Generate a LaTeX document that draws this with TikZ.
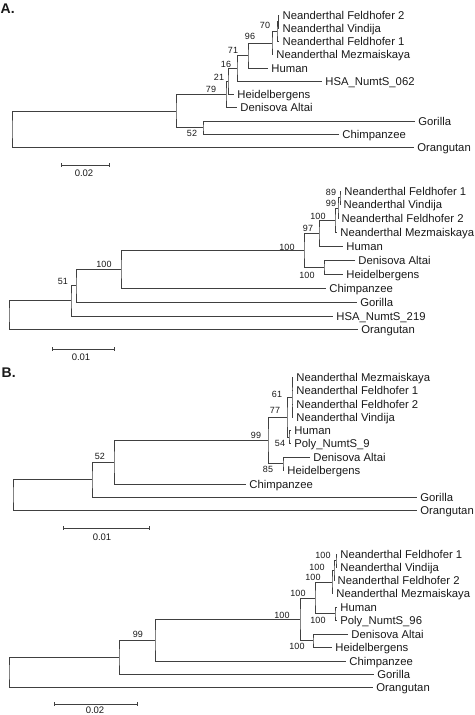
\documentclass[tikz,border=0pt]{standalone}
\usepackage{fontspec}
\setmainfont{Liberation Sans}
\newcommand\myclade[3]{\draw[br] (#2) -| (#1) |- (#3);}
\newcommand\myscale[2]{\draw[br] (#1) -- (#2); \draw[br] ([yshift=2pt]#1) -- ([yshift=-2pt]#1); \draw[br] ([yshift=2pt]#2) -- ([yshift=-2pt]#2);}
\begin{document}
\begin{tikzpicture}[x=1pt,y=-1pt,
  br/.style={draw=black!75, line width=0.65pt},
  leaf/.style={anchor=west, inner xsep=3pt, inner ysep=0pt, text height=8pt, text depth=0pt, font=\fontsize{11.3}{13}\selectfont, text=black!90},
  boot/.style={inner sep=0pt, text height=6.4pt, text depth=0pt, font=\fontsize{9}{10}\selectfont, text=black!90},
  barlabel/.style={inner sep=0pt, text height=6.8pt, text depth=0pt, font=\fontsize{9.5}{10}\selectfont, text=black!90},
  panel/.style={anchor=base west, inner sep=0pt, font=\fontsize{14}{15}\selectfont\bfseries, text=black!90}]
\useasboundingbox (0,0) rectangle (474,715);

% ---------------- Panel labels
\node[panel] (pA) at (0.5,13.3) {A.};
\node[panel] (pB) at (1.5,377) {B.};

% ================= Tree A1
\node[leaf] (a1f2) at (279.4,15) {Neanderthal Feldhofer 2};
\node[leaf] (a1v) at (279.4,28.2) {Neanderthal Vindija};
\node[leaf] (a1f1) at (279.4,41.5) {Neanderthal Feldhofer 1};
\node[leaf] (a1m) at (273.2,54.8) {Neanderthal Mezmaiskaya};
\node[leaf] (a1hu) at (268.2,68) {Human};
\node[leaf] (a1hsa) at (322.2,81.3) {HSA\_NumtS\_062};
\node[leaf] (a1hd) at (234.2,94.5) {Heidelbergens};
\node[leaf] (a1dn) at (237.2,107.8) {Denisova Altai};
\node[leaf] (a1go) at (415.2,121) {Gorilla};
\node[leaf] (a1ch) at (339.2,134.3) {Chimpanzee};
\node[leaf] (a1or) at (414.2,147.5) {Orangutan};

\coordinate (a1na) at (278.3,21.6);
\coordinate (a1n70) at (277,31.5);
\coordinate (a1n96) at (272,43.2);
\coordinate (a1n71) at (248,55.6);
\coordinate (a1n16) at (237,68.4);
\coordinate (a1n21) at (228,81.5);
\coordinate (a1n79) at (226,94.6);
\coordinate (a1ngc) at (203,127.6);
\coordinate (a1top) at (176,111.1);
\coordinate (a1root) at (12,129.3);

\myclade{a1na}{a1f2.west}{a1v.west}
\myclade{a1n70}{a1na}{a1f1.west}
\myclade{a1n96}{a1n70}{a1m.west}
\myclade{a1n71}{a1n96}{a1hu.west}
\myclade{a1n16}{a1n71}{a1hsa.west}
\myclade{a1n21}{a1n16}{a1hd.west}
\myclade{a1n79}{a1n21}{a1dn.west}
\myclade{a1ngc}{a1go.west}{a1ch.west}
\myclade{a1top}{a1n79}{a1ngc}
\myclade{a1root}{a1top}{a1or.west}

\node[boot] (a1b70) at (265,25) {70};
\node[boot] (a1b96) at (250,36) {96};
\node[boot] (a1b71) at (233,50) {71};
\node[boot] (a1b16) at (226,64) {16};
\node[boot] (a1b21) at (219,77) {21};
\node[boot] (a1b79) at (211,89) {79};
\node[boot] (a1b52) at (192,133) {52};

\coordinate (a1s0) at (61,165); \coordinate (a1s1) at (109,165);
\myscale{a1s0}{a1s1}
\node[barlabel] (a1sl) at (84,173) {0.02};

% ================= Tree A2
\node[leaf] (a2f1) at (341.2,191) {Neanderthal Feldhofer 1};
\node[leaf] (a2v) at (340.5,204.5) {Neanderthal Vindija};
\node[leaf] (a2f2) at (338.5,218) {Neanderthal Feldhofer 2};
\node[leaf] (a2m) at (337.2,232) {Neanderthal Mezmaiskaya};
\node[leaf] (a2hu) at (343.2,246) {Human};
\node[leaf] (a2dn) at (355.2,260) {Denisova Altai};
\node[leaf] (a2hd) at (343.2,274) {Heidelbergens};
\node[leaf] (a2ch) at (326.2,288) {Chimpanzee};
\node[leaf] (a2go) at (357.2,302) {Gorilla};
\node[leaf] (a2hsa) at (333.2,316) {HSA\_NumtS\_219};
\node[leaf] (a2or) at (358.2,329.5) {Orangutan};

\coordinate (a2n89) at (340,197.75);
\coordinate (a2n99) at (338,207.9);
\coordinate (a2nm) at (335,220);
\coordinate (a2n97) at (319,233);
\coordinate (a2ndh) at (324,267);
\coordinate (a2nb) at (304,250);
\coordinate (a2na) at (121,269);
\coordinate (a2nx) at (76,285.5);
\coordinate (a2ny) at (71,300.75);
\coordinate (a2root) at (9,315.1);

\myclade{a2n89}{a2f1.west}{a2v.west}
\myclade{a2n99}{a2n89}{a2f2.west}
\myclade{a2nm}{a2n99}{a2m.west}
\myclade{a2n97}{a2nm}{a2hu.west}
\myclade{a2ndh}{a2dn.west}{a2hd.west}
\myclade{a2nb}{a2n97}{a2ndh}
\myclade{a2na}{a2nb}{a2ch.west}
\myclade{a2nx}{a2na}{a2go.west}
\myclade{a2ny}{a2nx}{a2hsa.west}
\myclade{a2root}{a2ny}{a2or.west}

\node[boot] (a2b89) at (331,192) {89};
\node[boot] (a2b99) at (331,203) {99};
\node[boot] (a2b100m) at (318,216) {100};
\node[boot] (a2b97) at (308,228) {97};
\node[boot] (a2b100b) at (287,247) {100};
\node[boot] (a2b100dh) at (307,275) {100};
\node[boot] (a2b100a) at (104,264) {100};
\node[boot] (a2b51) at (63,281) {51};

\coordinate (a2s0) at (52,349); \coordinate (a2s1) at (114,349);
\myscale{a2s0}{a2s1}
\node[barlabel] (a2sl) at (81,357) {0.01};

% ================= Tree B1
\node[leaf] (b1m) at (293.2,377) {Neanderthal Mezmaiskaya};
\node[leaf] (b1f1) at (293.2,390.5) {Neanderthal Feldhofer 1};
\node[leaf] (b1f2) at (293.2,404) {Neanderthal Feldhofer 2};
\node[leaf] (b1v) at (293.2,417) {Neanderthal Vindija};
\node[leaf] (b1hu) at (291.2,430.5) {Human};
\node[leaf] (b1po) at (291.2,443.5) {Poly\_NumtS\_9};
\node[leaf] (b1dn) at (310.2,457) {Denisova Altai};
\node[leaf] (b1hd) at (284.2,470) {Heidelbergens};
\node[leaf] (b1ch) at (246.2,484) {Chimpanzee};
\node[leaf] (b1go) at (417.2,497) {Gorilla};
\node[leaf] (b1or) at (417.2,510) {Orangutan};

\coordinate (b1n61) at (292,397);
\coordinate (b1n54) at (289,437);
\coordinate (b1n77) at (287,417);
\coordinate (b1n85) at (283,463.5);
\coordinate (b1n99) at (268,440.25);
\coordinate (b1nin) at (114,462);
\coordinate (b1n52) at (92,479.5);
\coordinate (b1root) at (13,494.75);

\myclade{b1n61}{b1m.west}{b1v.west}
\draw[br] (b1n61 |- b1f1.west) -- (b1f1.west);
\draw[br] (b1n61 |- b1f2.west) -- (b1f2.west);
\myclade{b1n54}{b1hu.west}{b1po.west}
\myclade{b1n77}{b1n61}{b1n54}
\myclade{b1n85}{b1dn.west}{b1hd.west}
\myclade{b1n99}{b1n77}{b1n85}
\myclade{b1nin}{b1n99}{b1ch.west}
\myclade{b1n52}{b1nin}{b1go.west}
\myclade{b1root}{b1n52}{b1or.west}

\node[boot] (b1b61) at (277,394) {61};
\node[boot] (b1b77) at (275,410) {77};
\node[boot] (b1b99) at (256,435) {99};
\node[boot] (b1b54) at (280,443) {54};
\node[boot] (b1b85) at (268,469) {85};
\node[boot] (b1b52) at (100,456) {52};

\coordinate (b1s0) at (63,528); \coordinate (b1s1) at (149,528);
\myscale{b1s0}{b1s1}
\node[barlabel] (b1sl) at (102,537) {0.01};

% ================= Tree B2
\node[leaf] (b2f1) at (337.2,554) {Neanderthal Feldhofer 1};
\node[leaf] (b2v) at (337.2,567) {Neanderthal Vindija};
\node[leaf] (b2f2) at (334.5,580.5) {Neanderthal Feldhofer 2};
\node[leaf] (b2m) at (333.2,593.5) {Neanderthal Mezmaiskaya};
\node[leaf] (b2hu) at (337.2,607) {Human};
\node[leaf] (b2po) at (337.2,620.5) {Poly\_NumtS\_96};
\node[leaf] (b2dn) at (348.2,634) {Denisova Altai};
\node[leaf] (b2hd) at (332.2,647) {Heidelbergens};
\node[leaf] (b2ch) at (346.2,661) {Chimpanzee};
\node[leaf] (b2go) at (374.2,674) {Gorilla};
\node[leaf] (b2or) at (373.2,687) {Orangutan};

\coordinate (b2nfv) at (336,560.5);
\coordinate (b2nf2) at (334,570.5);
\coordinate (b2nm) at (332,582);
\coordinate (b2nhp) at (335,613.75);
\coordinate (b2nnh) at (315,597.9);
\coordinate (b2ndh) at (313,640.5);
\coordinate (b2na) at (300,619.2);
\coordinate (b2nin) at (155,640.1);
\coordinate (b2n99) at (119,657);
\coordinate (b2root) at (9,672);

\myclade{b2nfv}{b2f1.west}{b2v.west}
\myclade{b2nf2}{b2nfv}{b2f2.west}
\myclade{b2nm}{b2nf2}{b2m.west}
\myclade{b2nhp}{b2hu.west}{b2po.west}
\myclade{b2nnh}{b2nm}{b2nhp}
\myclade{b2ndh}{b2dn.west}{b2hd.west}
\myclade{b2na}{b2nnh}{b2ndh}
\myclade{b2nin}{b2na}{b2ch.west}
\myclade{b2n99}{b2nin}{b2go.west}
\myclade{b2root}{b2n99}{b2or.west}

\node[boot] (b2b1) at (323,555) {100};
\node[boot] (b2b2) at (317,567) {100};
\node[boot] (b2b3) at (313,577) {100};
\node[boot] (b2b4) at (298,593) {100};
\node[boot] (b2b5) at (282,615) {100};
\node[boot] (b2b6) at (318,620) {100};
\node[boot] (b2b7) at (297,646) {100};
\node[boot] (b2b99) at (138,634) {99};

\coordinate (b2s0) at (54,704); \coordinate (b2s1) at (137,704);
\myscale{b2s0}{b2s1}
\node[barlabel] (b2sl) at (95,710) {0.02};
\end{tikzpicture}
\end{document}
